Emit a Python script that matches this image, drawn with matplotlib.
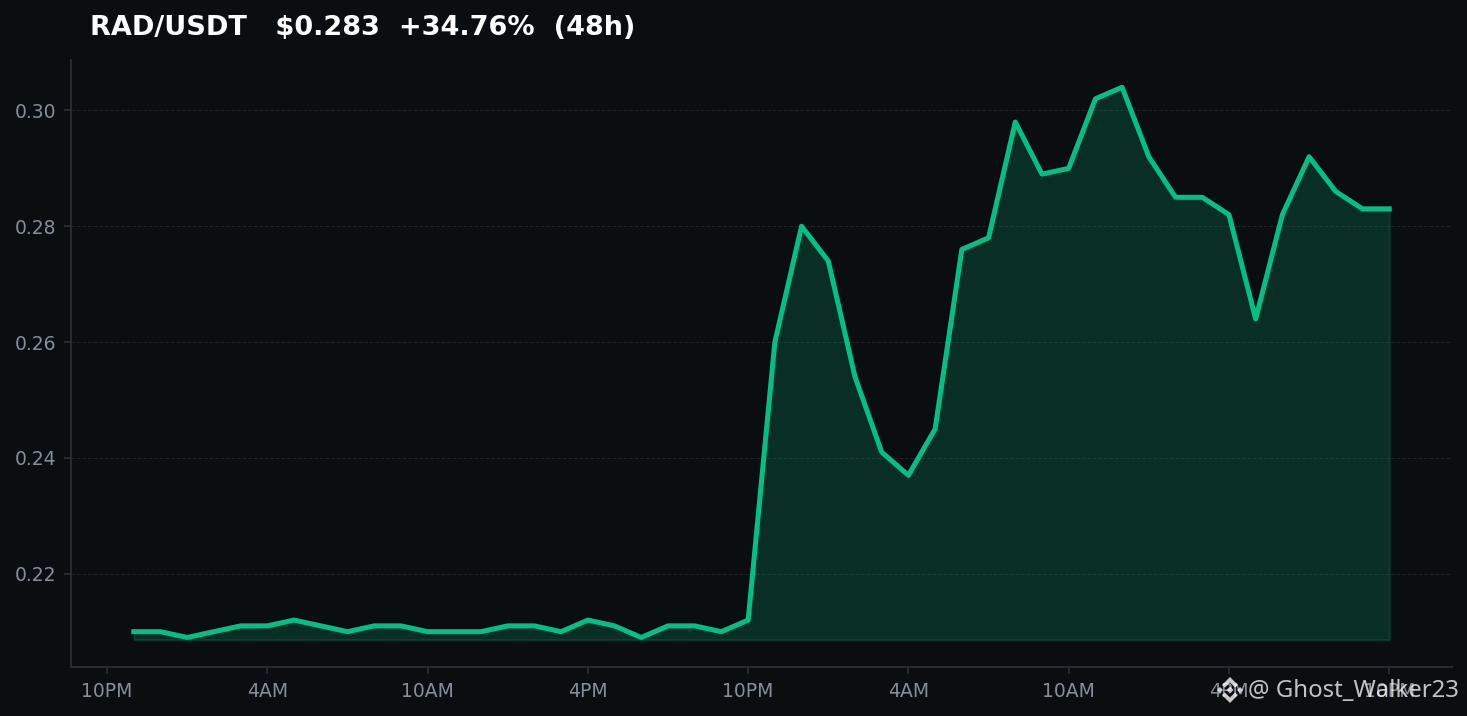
import matplotlib
matplotlib.use('Agg')
import matplotlib.pyplot as plt
from matplotlib.patches import Polygon
from matplotlib.transforms import Affine2D

# horas desde el primer tick (10PM)
hours = list(range(1, 49))
prices = [0.210, 0.210, 0.209, 0.210, 0.211, 0.211, 0.212, 0.211, 0.210, 0.211, 0.211, 0.210,
          0.210, 0.210, 0.211, 0.211, 0.210, 0.212, 0.211, 0.209, 0.211, 0.211, 0.210, 0.212,
          0.260, 0.280, 0.274, 0.254, 0.241, 0.237, 0.245, 0.276, 0.278, 0.298, 0.289, 0.290,
          0.302, 0.304, 0.292, 0.285, 0.285, 0.282, 0.264, 0.282, 0.292, 0.286, 0.283, 0.283]
fill_base = 0.2086
tick_hours = [0, 6, 12, 18, 24, 30, 36, 42, 48]
tick_labels = ['10PM', '4AM', '10AM', '4PM', '10PM', '4AM', '10AM', '4PM', '10PM']
y_ticks = [0.22, 0.24, 0.26, 0.28, 0.30]
title = 'RAD/USDT   $0.283  +34.76%  (48h)'
watermark = '@ Ghost_Walker23'

BG = '#0b0e11'
GREEN = '#02c084'
EDGE = '#2b3139'
TICK = '#848e9c'

W, H = 1467, 716
fig = plt.figure(figsize=(W / 150, H / 150), dpi=150, facecolor=BG)
ax = fig.add_axes([71 / W, (H - 667.4) / H, (1452 - 71) / W, (667.4 - 59.6) / H], facecolor=BG)

ax.plot(hours, prices, color=GREEN, linewidth=2.4, zorder=3)
ax.fill_between(hours, prices, fill_base, color=GREEN, alpha=0.18, zorder=2)

ax.set_xticks(tick_hours)
ax.set_xticklabels(tick_labels)
ax.set_yticks(y_ticks)
ax.set_yticklabels([f'{v:.2f}' for v in y_ticks])
ax.tick_params(colors=EDGE, labelcolor=TICK, labelsize=9, length=3.5, width=0.8)
ax.grid(axis='y', color=EDGE, linestyle='--', linewidth=0.5, alpha=0.6)
ax.set_axisbelow(True)
for side in ['top', 'right']:
    ax.spines[side].set_visible(False)
for side in ['left', 'bottom']:
    ax.spines[side].set_color(EDGE)
    ax.spines[side].set_linewidth(0.8)

fig.text(90 / W, 1 - 28 / H, title, color='white', fontsize=13, fontweight='bold',
         ha='left', va='center')

# marca de agua: logo y texto, en pixeles de la figura
logo = Affine2D().translate(1230, H - 690)
logo_shapes = [
    [(-8, 5), (0, 13), (8, 5), (5, 2.5), (0, 7.5), (-5, 2.5)],
    [(-8, -5), (0, -13), (8, -5), (5, -2.5), (0, -7.5), (-5, -2.5)],
    [(0, 3.5), (3.5, 0), (0, -3.5), (-3.5, 0)],
    [(-10, 3), (-7, 0), (-10, -3), (-13, 0)],
    [(10, 3), (13, 0), (10, -3), (7, 0)],
]
for pts in logo_shapes:
    fig.add_artist(Polygon(pts, closed=True, transform=logo, facecolor='white',
                           edgecolor='none', alpha=0.78, zorder=10))
fig.text(1459 / W, 1 - 691 / H, watermark, color='white', alpha=0.75, fontsize=11.5,
         family='Noto Sans', ha='right', va='center', zorder=10)

fig.savefig('out.png', dpi=150, facecolor=BG)
